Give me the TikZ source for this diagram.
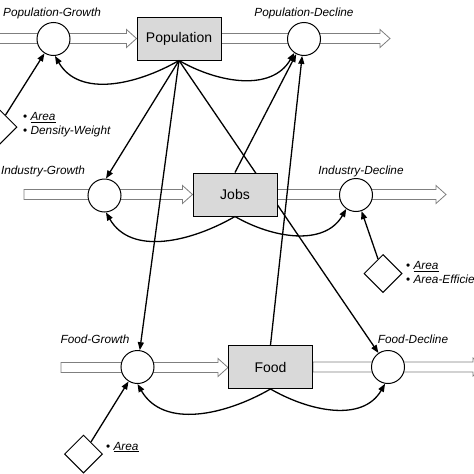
\documentclass[tikz,border=0pt]{standalone}
\usepackage{fontspec}
\setmainfont{Liberation Sans}
\usepackage{xcolor}
\definecolor{stockgray}{HTML}{D9D9D9}
\definecolor{pipegray}{HTML}{7F7F7F}
\usetikzlibrary{arrows.meta, positioning, shapes.geometric, backgrounds, calc}
\tikzset{%
    stock/.style={draw, line width=1pt, fill=stockgray, minimum width=84pt, minimum height=43pt, inner sep=0pt, font=\fontsize{14}{16}\selectfont},
    rate/.style={draw, circle, line width=1pt, fill=white, minimum size=33pt, inner sep=0pt},
    aux/.style={draw, diamond, line width=1pt, fill=white, minimum width=38pt, minimum height=38pt, inner sep=0pt},
    flow label/.style={inner sep=0pt, font=\fontsize{11.8}{14}\selectfont\itshape},
    param list/.style={anchor=west, align=left, inner sep=0pt, font=\fontsize{11.8}{14}\selectfont},
    pipe/.style={draw=pipegray, line width=0.8pt, fill=white},
    link/.style={line width=1.3pt, -{Triangle[length=8pt, width=6pt]}}
}
\newcommand{\flowpipe}[2]{%
    \draw[pipe] let \p1=(#1), \p2=(#2) in
        (\x1,\y1+5pt) -- (\x2-10pt,\y1+5pt) -- (\x2-10pt,\y1+9pt) -- (\x2,\y1)
        -- (\x2-10pt,\y1-9pt) -- (\x2-10pt,\y1-5pt) -- (\x1,\y1-5pt) -- cycle;}
\begin{document}
\begin{tikzpicture}[x=1pt, y=1pt]
    \useasboundingbox (0,0) rectangle (474,-474);
    % stocks and rates
    \node[stock] (pop) at (179,-38.5) {Population};
    \node[stock] (jobs) at (235,-194.5) {Jobs};
    \node[stock] (food) at (270.5,-367) {Food};
    \node[rate] (popgrowth) at (53.5,-39) {};
    \node[rate] (popdecline) at (304,-39) {};
    \node[rate] (indgrowth) at (104.5,-195.5) {};
    \node[rate] (inddecline) at (356,-195) {};
    \node[rate] (foodgrowth) at (137.5,-367) {};
    \node[rate] (fooddecline) at (388,-367) {};
    \node[aux] (popaux) at (-2,-127) {};
    \node[aux] (indaux) at (383,-273.5) {};
    \node[aux] (foodaux) at (83.5,-454) {};
    \coordinate (popsource) at (-3,-38.5);
    \coordinate (popsink) at (390,-38.5);
    \coordinate (indsource) at (24,-194.5);
    \coordinate (indsink) at (446,-194.5);
    \coordinate (foodsource) at (61,-367.5);
    \coordinate (foodsink) at (483,-367.5);
    % labels
    \node[flow label] (popgrowthlabel) at (52,-13) {Population-Growth};
    \node[flow label] (popdeclinelabel) at (304,-13) {Population-Decline};
    \node[flow label] (indgrowthlabel) at (43,-171) {Industry-Growth};
    \node[flow label] (inddeclinelabel) at (361,-171) {Industry-Decline};
    \node[flow label] (foodgrowthlabel) at (95,-339) {Food-Growth};
    \node[flow label] (fooddeclinelabel) at (413,-339) {Food-Decline};
    \node[param list] (popparams) at (23,-125) {\textbullet\ \underline{\textit{Area}}\\\textbullet\ \textit{Density-Weight}};
    \node[param list] (indparams) at (406,-274) {\textbullet\ \underline{\textit{Area}}\\\textbullet\ \textit{Area-Efficiency}};
    \node[param list] (foodparams) at (106,-447) {\textbullet\ \underline{\textit{Area}}};
    \begin{scope}[on background layer]
        \flowpipe{popsource}{pop.west}
        \flowpipe{pop.east}{popsink}
        \flowpipe{indsource}{jobs.west}
        \flowpipe{jobs.east}{indsink}
        \flowpipe{foodsource}{food.west}
        \flowpipe{food.east}{foodsink}
        \draw[link] (pop.south) -- (indgrowth.85);
        \draw[link] (pop.south) -- (foodgrowth);
        \draw[link] (pop.south) -- (fooddecline);
        \draw[link] (jobs.north) -- (popdecline);
        \draw[link] (food.north) -- (popdecline);
        \draw[link] (popaux) -- (popgrowth);
        \draw[link] (indaux) -- (inddecline);
        \draw[link] (foodaux) -- (foodgrowth);
    \end{scope}
    % feedback
    \draw[link] (pop.south) to[out=-150, in=-60] (popgrowth.-85);
    \draw[link] (pop.south) to[out=-30, in=-120] (popdecline.-125);
    \draw[link] (jobs.south) to[out=-150, in=-60] (indgrowth.-85);
    \draw[link] (jobs.south) to[out=-30, in=-120] (inddecline.-125);
    \draw[link] (food.south) to[out=-150, in=-60] (foodgrowth.-90);
    \draw[link] (food.south) to[out=-30, in=-120] (fooddecline.-100);
\end{tikzpicture}
\end{document}
